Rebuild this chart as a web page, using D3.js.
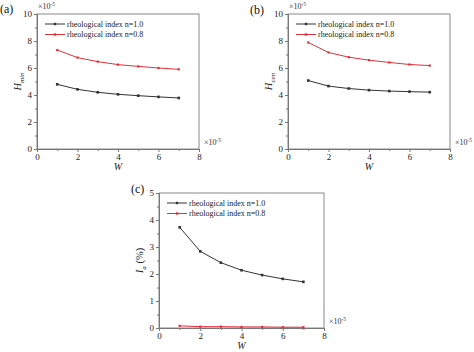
<!DOCTYPE html>
<html lang="en">
<head>
<meta charset="UTF-8">
<title>Rheological index panels</title>
<script src="https://d3js.org/d3.v7.min.js"></script>
<style>
    body { margin: 0; background: #fff; }
    svg, svg text { font-family: "Liberation Serif", "Times New Roman", serif; }
    .tick text { font-size: 9px; fill: #222; font-family: "Liberation Serif", serif; }
    .legend { font-size: 8px; fill: #222; }
    .plabel { font-size: 12px; fill: #111; }
    .mult { font-size: 8px; fill: #333; }
    .alabel { font-size: 10.5px; font-style: italic; fill: #222; }
    .wlabel { font-size: 10px; font-style: italic; fill: #222; }
</style>
</head>
<body>
<svg width="474" height="352"></svg>
<script>
    const wValues = [1, 2, 3, 4, 5, 6, 7];
    const seriesNames = ["rheological index n=1.0", "rheological index n=0.8"];
    // panel (a) H_min
    const hminN10 = [4.79, 4.42, 4.2, 4.05, 3.95, 3.86, 3.78];
    const hminN08 = [7.33, 6.77, 6.47, 6.25, 6.12, 6.0, 5.9];
    // panel (b) H_cen
    const hcenN10 = [5.07, 4.66, 4.48, 4.36, 4.29, 4.25, 4.21];
    const hcenN08 = [7.89, 7.15, 6.8, 6.58, 6.41, 6.26, 6.18];
    // panel (c) I_a (%)
    const iaN10 = [3.73, 2.84, 2.42, 2.14, 1.96, 1.82, 1.71];
    const iaN08 = [0.08, 0.05, 0.05, 0.04, 0.04, 0.03, 0.03];
    const xTicks = [0, 2, 4, 6, 8];

    const colors = ["#333333", "#e0313b"];
    const svg = d3.select("svg");
    const serif = "Liberation Serif, Times New Roman, serif";

    function panel(cfg) {
        const g = svg.append("g");
        const x = d3.scaleLinear().domain([0, 8]).range([cfg.left, cfg.right]);
        const y = d3.scaleLinear().domain([0, cfg.ymax]).range([cfg.bottom, cfg.top]);

        // frame
        g.append("rect")
            .attr("x", cfg.left).attr("y", cfg.top)
            .attr("width", cfg.right - cfg.left).attr("height", cfg.bottom - cfg.top)
            .attr("fill", "none").attr("stroke", "#8a8a8a").attr("stroke-width", 1);

        // minor ticks
        g.append("g")
            .attr("transform", `translate(0,${cfg.bottom})`)
            .call(d3.axisBottom(x).tickValues([1, 3, 5, 7]).tickSize(2).tickFormat(""))
            .call(a => a.select(".domain").remove())
            .selectAll("line").attr("stroke", "#777");
        g.append("g")
            .attr("transform", `translate(${cfg.left},0)`)
            .call(d3.axisLeft(y).tickValues(cfg.yMinor).tickSize(2).tickFormat(""))
            .call(a => a.select(".domain").remove())
            .selectAll("line").attr("stroke", "#777");

        // major ticks
        const xa = g.append("g")
            .attr("transform", `translate(0,${cfg.bottom})`)
            .call(d3.axisBottom(x).tickValues(xTicks).tickSize(3).tickPadding(1.5).tickFormat(d3.format("d")));
        xa.attr("font-family", serif);
        xa.select(".domain").attr("stroke", "#777");
        xa.selectAll("line").attr("stroke", "#777");
        const ya = g.append("g")
            .attr("transform", `translate(${cfg.left},0)`)
            .call(d3.axisLeft(y).tickValues(cfg.yTicks).tickSize(3).tickPadding(2).tickFormat(d3.format("d")));
        ya.attr("font-family", serif);
        ya.select(".domain").attr("stroke", "#777");
        ya.selectAll("line").attr("stroke", "#777");

        // series
        const line = d3.line().x((d, i) => x(wValues[i])).y(d => y(d));
        cfg.series.forEach((s, k) => {
            const r = k === 0 ? 1.3 : 1.1;
            g.append("path").datum(s)
                .attr("d", line).attr("fill", "none")
                .attr("stroke", colors[k]).attr("stroke-width", 1);
            g.selectAll(null).data(s).enter().append("rect")
                .attr("x", (d, i) => x(wValues[i]) - r)
                .attr("y", d => y(d) - r)
                .attr("width", 2 * r).attr("height", 2 * r)
                .attr("fill", colors[k]);
        });

        // legend
        seriesNames.forEach((name, k) => {
            const ly = cfg.legY + k * 10.5;
            g.append("line")
                .attr("x1", cfg.legX).attr("x2", cfg.legX + 20)
                .attr("y1", ly).attr("y2", ly)
                .attr("stroke", colors[k]).attr("stroke-width", 1);
            g.append("rect")
                .attr("x", cfg.legX + 8.8).attr("y", ly - 1.2)
                .attr("width", 2.4).attr("height", 2.4).attr("fill", colors[k]);
            g.append("text").attr("class", "legend")
                .attr("x", cfg.legX + 22).attr("y", ly + 2.8)
                .text(name);
        });

        // panel label
        g.append("text").attr("class", "plabel")
            .attr("x", cfg.plX).attr("y", cfg.plY).text(cfg.tag);

        // multipliers
        if (cfg.topMult) {
            const t = g.append("text").attr("class", "mult")
                .attr("x", cfg.left + 1).attr("y", cfg.top - 5).text("×10");
            t.append("tspan").attr("dy", -3).attr("font-size", "5.5px").text("-5");
        }
        const m = g.append("text").attr("class", "mult")
            .attr("x", cfg.right + 5).attr("y", cfg.bottom - 4).text("×10");
        m.append("tspan").attr("dy", -3).attr("font-size", "5.5px").text("-5");

        // axis titles
        g.append("text").attr("class", "wlabel")
            .attr("x", (cfg.left + cfg.right) / 2).attr("y", Math.min(cfg.bottom + 21, 349.5))
            .attr("text-anchor", "middle").text("W");
        const yl = g.append("text").attr("class", "alabel")
            .attr("transform", `translate(${cfg.left - 16},${(cfg.top + cfg.bottom) / 2}) rotate(-90)`)
            .attr("text-anchor", "middle").text(cfg.yBase);
        yl.append("tspan").attr("dy", 2.5).attr("font-size", "7px").text(cfg.ySub);
        if (cfg.ySuffix) {
            yl.append("tspan").attr("dy", -2.5).attr("font-style", "normal").text(cfg.ySuffix);
        }
    }

    panel({
        tag: "(a)", plX: 0, plY: 13,
        left: 37, right: 199, top: 14, bottom: 149,
        ymax: 10, yTicks: [0, 2, 4, 6, 8, 10], yMinor: [1, 3, 5, 7, 9],
        series: [hminN10, hminN08],
        legX: 45, legY: 24, topMult: true,
        yBase: "H", ySub: "min"
    });
    panel({
        tag: "(b)", plX: 250, plY: 14,
        left: 288, right: 450, top: 14, bottom: 149,
        ymax: 10, yTicks: [0, 2, 4, 6, 8, 10], yMinor: [1, 3, 5, 7, 9],
        series: [hcenN10, hcenN08],
        legX: 296, legY: 24, topMult: true,
        yBase: "H", ySub: "cen"
    });
    panel({
        tag: "(c)", plX: 131, plY: 193,
        left: 159, right: 324, top: 193, bottom: 328,
        ymax: 5, yTicks: [0, 1, 2, 3, 4, 5], yMinor: [0.5, 1.5, 2.5, 3.5, 4.5],
        series: [iaN10, iaN08],
        legX: 167, legY: 203, topMult: false,
        yBase: "I", ySub: "a", ySuffix: " (%)"
    });
</script>
</body>
</html>
